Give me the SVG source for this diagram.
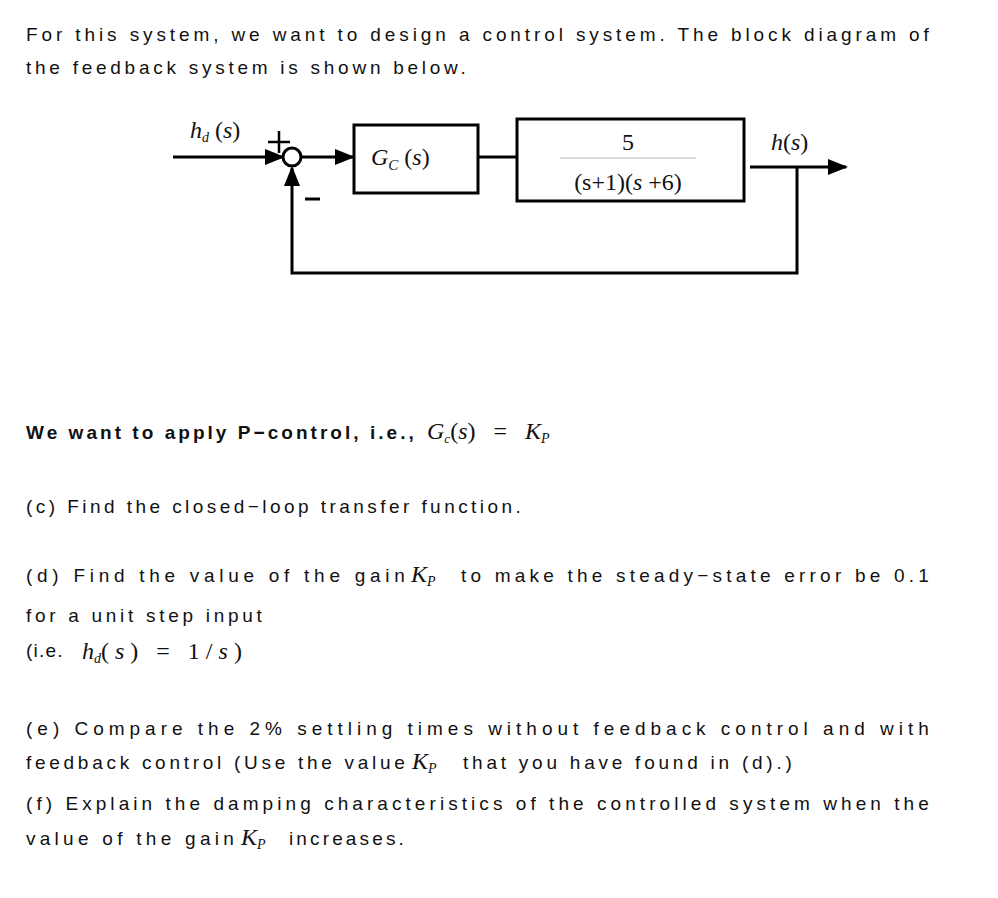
<svg xmlns="http://www.w3.org/2000/svg" width="998" height="898" viewBox="0 0 998 898">
<defs>
<marker id="ar" markerWidth="20" markerHeight="20" refX="18" refY="8" orient="auto" markerUnits="userSpaceOnUse" viewBox="0 0 20 16"><path d="M0,0 L20,8 L0,16 z" fill="#000"/></marker>
<style>
.t{font-family:"Liberation Sans",sans-serif;font-size:19px;letter-spacing:1.2px;fill:#111}
.m{font-family:"Liberation Serif",serif;font-size:24px;fill:#111}
.i{font-style:italic}
.ln{stroke:#000;stroke-width:3;fill:none}
</style>
</defs>
<rect width="998" height="898" fill="#fff"/>
<text class="t" x="26" y="41" textLength="904" lengthAdjust="spacing">For this system, we want to design a control system. The block diagram of</text>
<text class="t" x="26" y="74" textLength="441" lengthAdjust="spacing">the feedback system is shown below.</text>
<g id="conn">
<line class="ln" x1="173" y1="157" x2="283" y2="157" marker-end="url(#ar)"/>
<line class="ln" x1="302" y1="157" x2="353" y2="157" marker-end="url(#ar)"/>
<line class="ln" x1="478" y1="157" x2="517" y2="157"/>
<line class="ln" x1="750" y1="167" x2="846" y2="167" marker-end="url(#ar)"/>
<polyline class="ln" points="797,167 797,273 292,273 292,168" marker-end="url(#ar)"/>
</g>
<g id="sum"><circle cx="292" cy="157" r="9" fill="#fff" stroke="#000" stroke-width="3"/>
<path d="M268,142 h22 M279,131 v22" stroke="#000" stroke-width="2.5"/>
<path d="M305,199 h15" stroke="#000" stroke-width="3"/></g>
<g id="gc"><rect x="354" y="125" width="124" height="68" fill="#fff" stroke="#000" stroke-width="3"/>
<text class="m" x="371" y="165" xml:space="preserve"><tspan class="i">G</tspan><tspan font-size="15" class="i" dy="5">C</tspan><tspan dy="-5"> (</tspan><tspan class="i">s</tspan>)</text></g>
<g id="plant"><rect x="517" y="119" width="227" height="82" fill="#fff" stroke="#000" stroke-width="3"/>
<text class="m" x="628" y="150" text-anchor="middle">5</text>
<line x1="560" y1="158" x2="696" y2="158" stroke="#bbb" stroke-width="1"/>
<text class="m" x="628" y="190" text-anchor="middle" xml:space="preserve">(s+1)(<tspan class="i">s</tspan> +6)</text></g>
<text class="m i" x="190" y="138" xml:space="preserve">h<tspan font-size="14" dy="4">d</tspan><tspan dy="-4" font-style="normal"> (</tspan>s<tspan font-style="normal">)</tspan></text>
<text class="m i" x="771" y="150">h<tspan font-style="normal">(</tspan>s<tspan font-style="normal">)</tspan></text>
<text class="t" x="26" y="439" font-weight="bold" textLength="389" lengthAdjust="spacing">We want to apply P−control, i.e.,</text>
<text class="m i" x="427" y="439" xml:space="preserve">G<tspan font-size="13" dy="4">c</tspan><tspan dy="-4" font-style="normal">(</tspan>s<tspan font-style="normal">)   =   </tspan>K<tspan font-size="14" dy="4">P</tspan></text>
<text class="t" x="26" y="513" textLength="496" lengthAdjust="spacing">(c) Find the closed−loop transfer function.</text>
<text class="t" x="26" y="582" textLength="380" lengthAdjust="spacing">(d) Find the value of the gain</text>
<text class="m i" x="411" y="582">K<tspan font-size="14" dy="4">P</tspan></text>
<text class="t" x="461" y="582" textLength="469" lengthAdjust="spacing">to make the steady−state error be 0.1</text>
<text class="t" x="26" y="622" textLength="237" lengthAdjust="spacing">for a unit step input</text>
<text class="t" x="26" y="657">(i.e.</text>
<text class="m i" x="82" y="659" xml:space="preserve">h<tspan font-size="14" dy="4">d</tspan><tspan dy="-4" font-style="normal">( </tspan>s<tspan font-style="normal"> )   =   1 / </tspan>s<tspan font-style="normal"> )</tspan></text>
<text class="t" x="26" y="735" textLength="904" lengthAdjust="spacing">(e) Compare the 2% settling times without feedback control and with</text>
<text class="t" x="26" y="769" textLength="380" lengthAdjust="spacing">feedback control (Use the value</text>
<text class="m i" x="412" y="769">K<tspan font-size="14" dy="4">P</tspan></text>
<text class="t" x="463" y="769" textLength="330" lengthAdjust="spacing">that you have found in (d).)</text>
<text class="t" x="26" y="810" textLength="904" lengthAdjust="spacing">(f) Explain the damping characteristics of the controlled system when the</text>
<text class="t" x="26" y="845" textLength="209" lengthAdjust="spacing">value of the gain</text>
<text class="m i" x="241" y="845">K<tspan font-size="14" dy="4">P</tspan></text>
<text class="t" x="289" y="845" textLength="116" lengthAdjust="spacing">increases.</text>
</svg>
